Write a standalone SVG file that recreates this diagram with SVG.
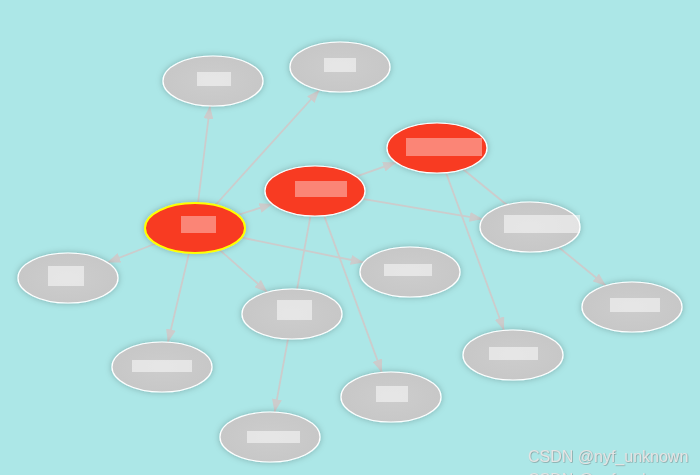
<svg xmlns="http://www.w3.org/2000/svg" width="700" height="475" viewBox="0 0 700 475">
<style>
.edge{stroke:#cccccc;stroke-width:1.8;fill:none;marker-end:url(#arr)}
.gray{fill:url(#gg);stroke:#ffffff;stroke-width:1.2;filter:url(#sh)}
.red{fill:#f83a23;stroke:#ffffff;stroke-width:1.2;filter:url(#sh)}
.main{fill:#f83a23;stroke:#ffff00;stroke-width:2;filter:url(#sh)}
.mg{fill:#ffffff;opacity:0.5}
.mr{fill:#ffffff;opacity:0.38}
.wm{font-family:"Liberation Sans",Arial,sans-serif;font-size:16px;fill:#e4e4e4;filter:url(#ts)}
</style>
<defs>
<radialGradient id="gg" cx="50%" cy="50%" r="60%">
<stop offset="0" stop-color="#cdcdcd"/>
<stop offset="1" stop-color="#c6c6c6"/>
</radialGradient>
<filter id="sh" x="-20%" y="-30%" width="140%" height="160%">
<feDropShadow dx="0" dy="0" stdDeviation="3" flood-color="#000" flood-opacity="0.25"/>
</filter>
<filter id="ts" x="-5%" y="-20%" width="110%" height="140%">
<feDropShadow dx="0.6" dy="0.6" stdDeviation="0.4" flood-color="#6f7f7f" flood-opacity="0.8"/>
</filter>
<marker id="arr" markerUnits="userSpaceOnUse" markerWidth="14" markerHeight="10" refX="13" refY="5" orient="auto">
<path d="M0,0 L13,5 L0,10 Z" fill="#cccccc"/>
</marker>
</defs>
<rect width="700" height="475" fill="#ace7e7"/>
<g id="connectors">
<line class="edge" x1="198" y1="203" x2="210" y2="106"/>
<line class="edge" x1="215.5" y1="205" x2="319.5" y2="90"/>
<line class="edge" x1="237.6" y1="215" x2="272.4" y2="204"/>
<line class="edge" x1="155.7" y1="243.5" x2="107.3" y2="262.5"/>
<line class="edge" x1="189.1" y1="252.8" x2="167.9" y2="342.2"/>
<line class="edge" x1="219.6" y1="249.8" x2="267.4" y2="292.2"/>
<line class="edge" x1="241.3" y1="237.5" x2="363.7" y2="262.5"/>
<line class="edge" x1="355.9" y1="176.6" x2="396.1" y2="162.4"/>
<line class="edge" x1="362.4" y1="198.9" x2="482.6" y2="219.1"/>
<line class="edge" x1="310.5" y1="215.9" x2="274.6" y2="412.1"/>
<line class="edge" x1="324.1" y1="215.6" x2="381.9" y2="372.4"/>
<line class="edge" x1="446" y1="172.7" x2="504" y2="330.3"/>
<line class="edge" x1="463.1" y1="169.3" x2="605.9" y2="285.7"/>
</g>
<g id="n1"><ellipse class="gray" cx="213" cy="81" rx="50" ry="25"/><rect class="mg" x="197" y="72" width="34" height="14"/></g>
<g id="n2"><ellipse class="gray" cx="340" cy="67" rx="50" ry="25"/><rect class="mg" x="324" y="58" width="32" height="14"/></g>
<g id="n3"><ellipse class="main" cx="195" cy="228" rx="50" ry="25"/><rect class="mr" x="181" y="216" width="35" height="17"/></g>
<g id="n4"><ellipse class="red" cx="315" cy="191" rx="50" ry="25"/><rect class="mr" x="295" y="181" width="52" height="16"/></g>
<g id="n5"><ellipse class="red" cx="437" cy="148" rx="50" ry="25"/><rect class="mr" x="406" y="138" width="76" height="18"/></g>
<g id="n6"><ellipse class="gray" cx="68" cy="278" rx="50" ry="25"/><rect class="mg" x="48" y="266" width="36" height="20"/></g>
<g id="n7"><ellipse class="gray" cx="530" cy="227" rx="50" ry="25"/><rect class="mg" x="504" y="215" width="76" height="18"/></g>
<g id="n8"><ellipse class="gray" cx="410" cy="272" rx="50" ry="25"/><rect class="mg" x="384" y="264" width="48" height="12"/></g>
<g id="n9"><ellipse class="gray" cx="292" cy="314" rx="50" ry="25"/><rect class="mg" x="277" y="300" width="35" height="20"/></g>
<g id="n10"><ellipse class="gray" cx="632" cy="307" rx="50" ry="25"/><rect class="mg" x="610" y="298" width="50" height="14"/></g>
<g id="n11"><ellipse class="gray" cx="162" cy="367" rx="50" ry="25"/><rect class="mg" x="132" y="360" width="60" height="12"/></g>
<g id="n12"><ellipse class="gray" cx="513" cy="355" rx="50" ry="25"/><rect class="mg" x="489" y="347" width="49" height="13"/></g>
<g id="n13"><ellipse class="gray" cx="391" cy="397" rx="50" ry="25"/><rect class="mg" x="376" y="386" width="32" height="16"/></g>
<g id="n14"><ellipse class="gray" cx="270" cy="437" rx="50" ry="25"/><rect class="mg" x="247" y="431" width="53" height="12"/></g>
<text class="wm" x="528" y="462">CSDN @nyf_unknown</text>
<text class="wm" x="528" y="485">CSDN @nyf_unknown</text>
</svg>
